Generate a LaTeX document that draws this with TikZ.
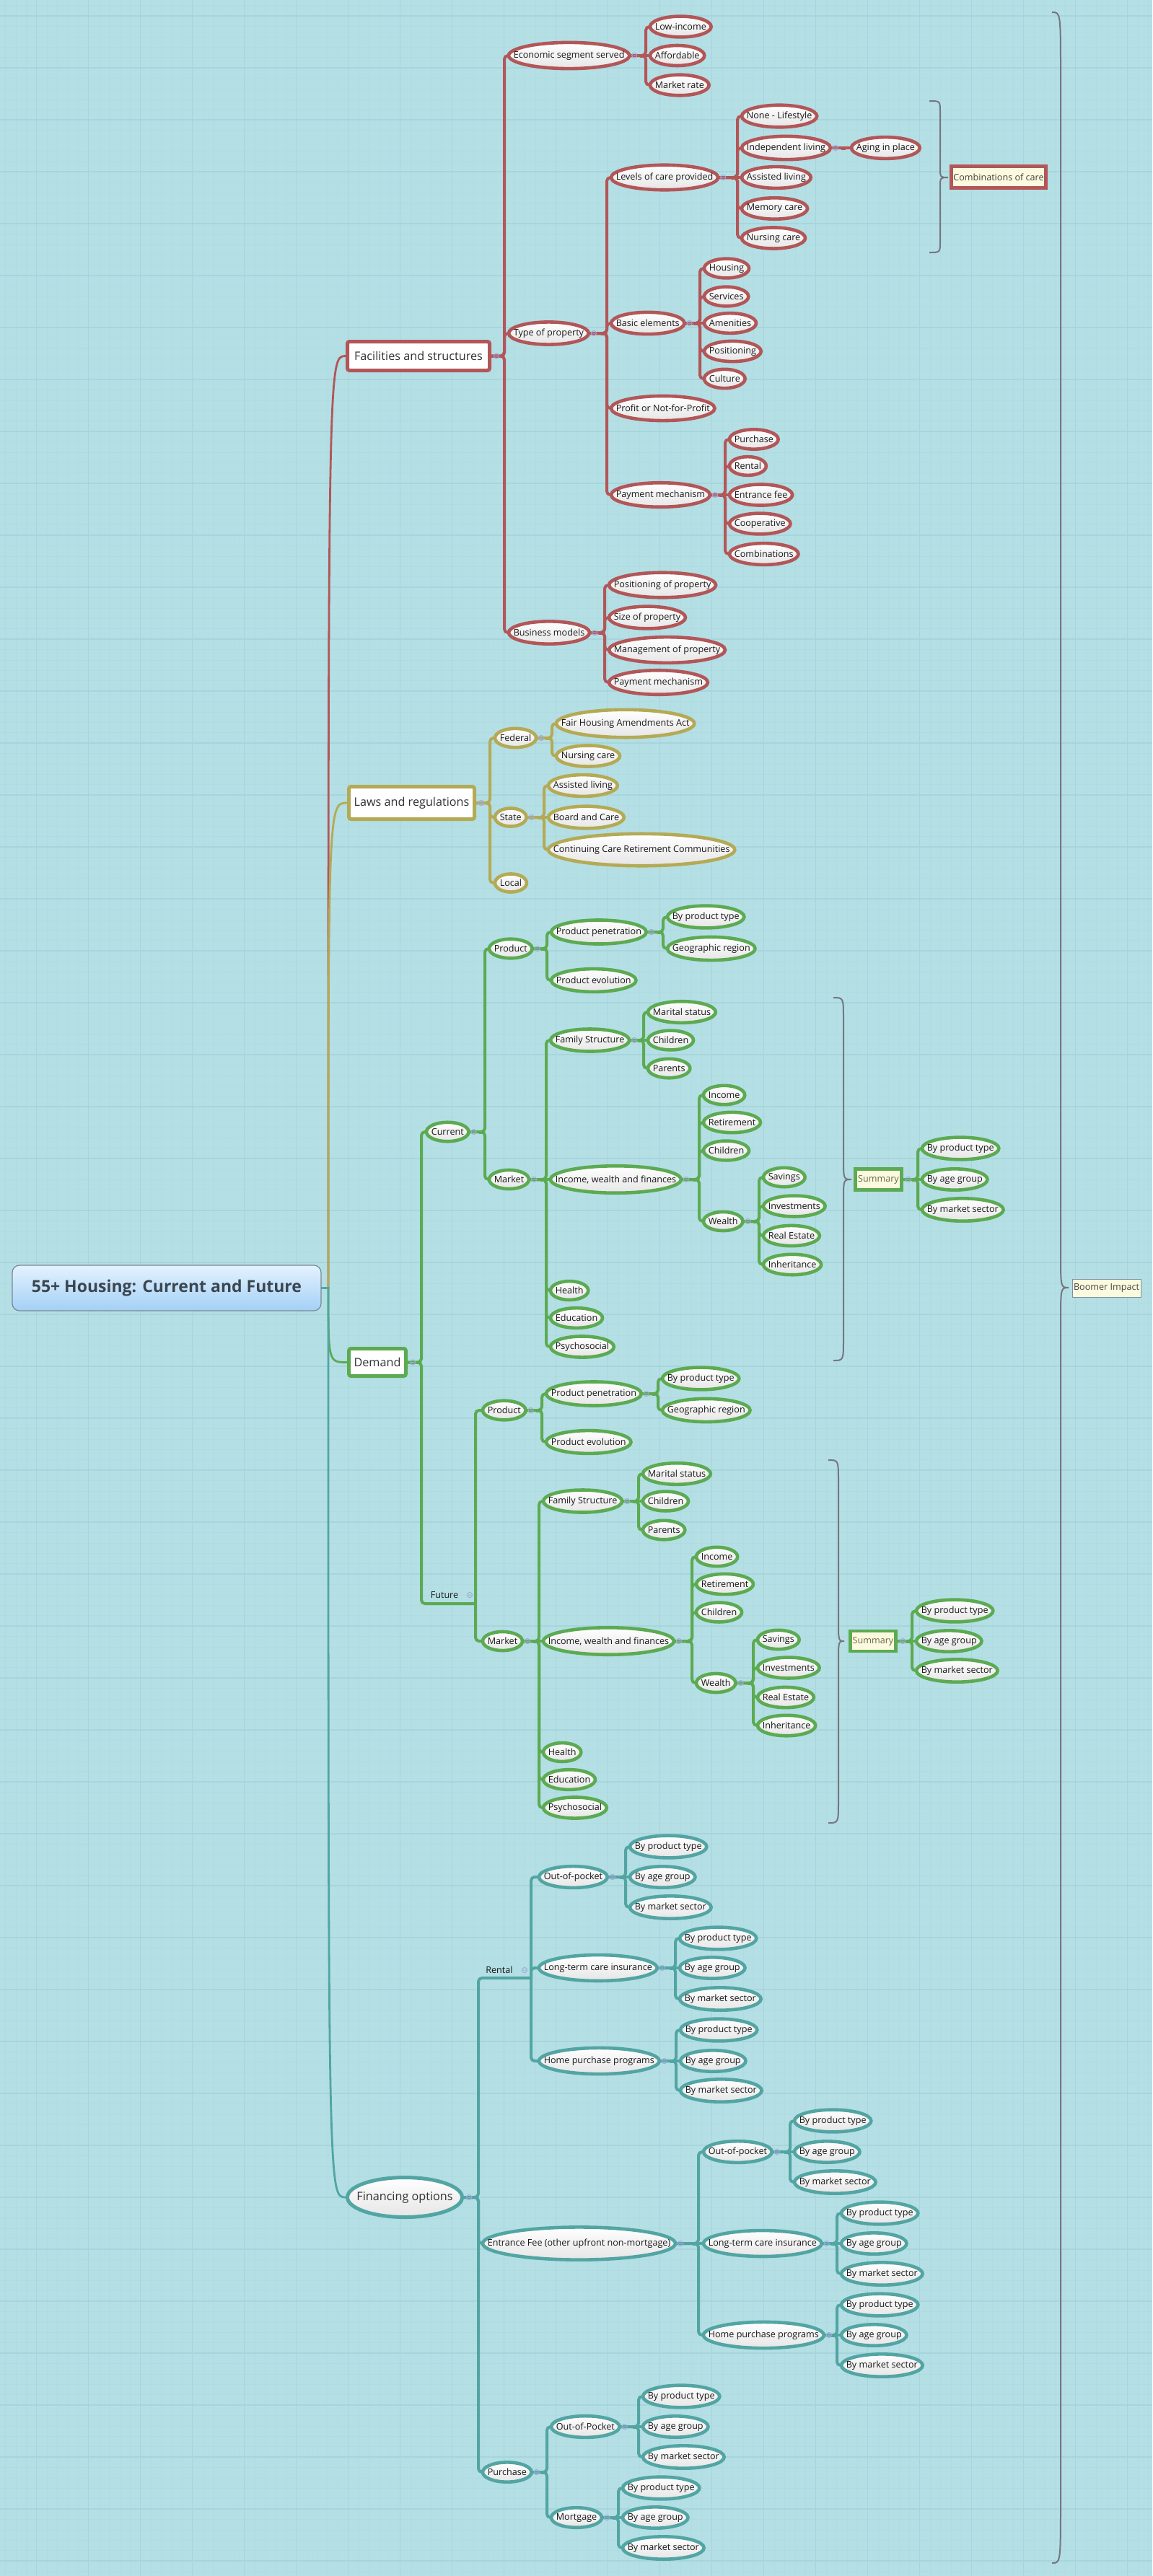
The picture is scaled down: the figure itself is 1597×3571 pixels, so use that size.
\documentclass[tikz,border=0pt]{standalone}
\usepackage{fontspec}
\setmainfont{Open Sans}
\usetikzlibrary{shapes.geometric,calc}
\pgfdeclarelayer{gridl}
\pgfdeclarelayer{lines}
\pgfdeclarelayer{ell}
\pgfsetlayers{gridl,lines,ell,main}
\definecolor{bg}{RGB}{180,223,229}
\definecolor{gmin}{RGB}{175,219,225}
\definecolor{gmaj}{RGB}{167,213,220}
\definecolor{cR}{RGB}{178,86,88}
\definecolor{cG}{RGB}{180,170,85}
\definecolor{cD}{RGB}{92,170,82}
\definecolor{cT}{RGB}{82,165,163}
\definecolor{cream}{RGB}{252,250,222}
\definecolor{bracec}{RGB}{118,118,128}
\definecolor{txt}{RGB}{25,25,25}
\definecolor{ltxt}{RGB}{50,50,50}
\definecolor{stxt}{RGB}{105,105,75}
\definecolor{dtxt}{RGB}{68,68,68}
\definecolor{mkc}{RGB}{160,172,220}
\definecolor{rootT}{RGB}{228,242,254}
\definecolor{rootB}{RGB}{163,208,246}
\definecolor{rootb}{RGB}{120,136,150}
\definecolor{roottxt}{RGB}{58,70,81}
\definecolor{boomb}{RGB}{125,145,160}
\newcommand\mmfont{\fontsize{6.3pt}{7.5pt}\selectfont}
\newcommand\mmlfont{\fontsize{8.1pt}{9.5pt}\selectfont}
\newcommand\mmE[5]{%
  \node[tnode, anchor=west] (#1) at ({#3+2},#4) {#5};
  \begin{pgfonlayer}{ell}
  \path let \p1=(#1.west), \p2=(#1.east), \n1={(\x2-\x1)/2}, \n2={5.3+0.045*(\x2-\x1)} in [eshape=#2] (#1.center) ellipse [x radius={\n1*1pt}, y radius={\n2*1pt}];
  \end{pgfonlayer}}
\newcommand\mmC[4]{\begin{pgfonlayer}{lines}\draw[conn=#1] (#2.east) -- (perpendicular cs: horizontal line through={(#2.east)}, vertical line through={(#3,0)}) |- (#4.west);\end{pgfonlayer}}
\newcommand\mmS[3]{\begin{pgfonlayer}{lines}\draw[conn=#1] (#2.east) -- (#3.west);\end{pgfonlayer}}
\newcommand\mmK[1]{\draw[mk] (#1) ++(7,0) circle[radius=1.8pt] ++(-2,0) -- ++(4,0);}
\newcommand\mmM[3]{\fill[#1] (perpendicular cs: horizontal line through={(#2.east)}, vertical line through={(#3,0)}) ++(-8,-2.5) rectangle ++(6,5); \mmK{#2.east}}
\newcommand\mmR[2]{\begin{pgfonlayer}{lines}\draw[rootc=#1] (root.east) -- (455,1785.5) .. controls (perpendicular cs: horizontal line through={(#2.west)}, vertical line through={(455,0)}) .. (#2.west);\end{pgfonlayer}}
\newcommand\mmB[8]{\draw[bracel] (#1,#2) .. controls (#3,#2) .. (#3,{#2+#7}) -- (#3,{#5-#8}) .. controls (#3,#5) .. (#4,#5) .. controls (#3,#5) .. (#3,{#5+#8}) -- (#3,{#6-#7}) .. controls (#3,#6) .. (#1,#6);}
\begin{document}
\begin{tikzpicture}[x=0.5pt,y=-0.5pt,
  tnode/.style={rectangle, inner xsep=3.2pt, inner ysep=2pt, font=\mmfont, text=txt},
  eshape/.style={draw=#1, line width=2.3pt, top color=white, bottom color=black!10},
  conn/.style={draw=#1, line width=2pt, rounded corners=2.5pt},
  rootc/.style={draw=#1, line width=1.4pt},
  l1box/.style={rectangle, draw=#1, line width=2.5pt, fill=white, rounded corners=1.5pt, inner sep=2pt, font=\mmlfont, text=ltxt},
  l1ell/.style={ellipse, draw=#1, line width=2.5pt, top color=white, bottom color=black!10, inner sep=0pt, font=\mmlfont, text=ltxt},
  sbox/.style={rectangle, draw=#1, line width=2.4pt, fill=cream, inner sep=1pt, font=\mmfont, text=stxt},
  mk/.style={draw=mkc, line width=0.5pt},
  bracel/.style={draw=bracec, line width=1pt}]
\path[use as bounding box] (0,0) rectangle (1597,3571);
\begin{pgfonlayer}{gridl}
\fill[bg] (0,0) rectangle (1597,3571);
\foreach \i in {0,...,110} {\draw[gmin, line width=0.3pt] ({7.5+14.4*\i},0) -- ({7.5+14.4*\i},3571);}
\foreach \i in {0,...,247} {\draw[gmin, line width=0.3pt] (0,{7.6+14.4*\i}) -- (1597,{7.6+14.4*\i});}
\foreach \i in {0,...,21} {\draw[gmaj, line width=0.6pt] ({50.7+72*\i},0) -- ({50.7+72*\i},3571);}
\foreach \i in {0,...,49} {\draw[gmaj, line width=0.6pt] (0,{22+72*\i}) -- (1597,{22+72*\i});}
\end{pgfonlayer}

% root
\node[rectangle, rounded corners=5pt, draw=rootb, line width=0.6pt, top color=rootT, bottom color=rootB, minimum width=214pt, minimum height=31.5pt, font=\fontsize{11.5pt}{13pt}\selectfont\bfseries, text=roottxt] (root) at (231,1785.5) {55+ Housing: Current and Future};

% ---------- Facilities ----------
\node[l1box=cR, minimum width=98.5pt, minimum height=20pt] (fac) at (580,493.5) {Facilities and structures};
\mmE{eco}{cR}{703}{77}{Economic segment served}
\mmE{top}{cR}{703}{462}{Type of property}
\mmE{bm}{cR}{703}{877}{Business models}
\mmE{lowinc}{cR}{899}{37}{Low-income}
\mmE{afford}{cR}{899}{77}{Affordable}
\mmE{mrate}{cR}{899}{118}{Market rate}
\mmE{loc}{cR}{845}{246}{Levels of care provided}
\mmE{be}{cR}{845}{448}{Basic elements}
\mmE{pnp}{cR}{845}{566}{Profit or Not-for-Profit}
\mmE{pm}{cR}{845}{686}{Payment mechanism}
\mmE{none}{cR}{1026}{161}{None - Lifestyle}
\mmE{indep}{cR}{1026}{205}{Independent living}
\mmE{aging}{cR}{1178}{205}{Aging in place}
\mmE{asst}{cR}{1026}{246}{Assisted living}
\mmE{memory}{cR}{1026}{289}{Memory care}
\mmE{nursing}{cR}{1026}{330}{Nursing care}
\mmE{housing}{cR}{974}{372}{Housing}
\mmE{services}{cR}{974}{411}{Services}
\mmE{amen}{cR}{974}{448}{Amenities}
\mmE{posit}{cR}{974}{487}{Positioning}
\mmE{culture}{cR}{974}{525}{Culture}
\mmE{purch}{cR}{1009}{609}{Purchase}
\mmE{rent}{cR}{1009}{646}{Rental}
\mmE{entfee}{cR}{1009}{686}{Entrance fee}
\mmE{coop}{cR}{1009}{726}{Cooperative}
\mmE{combi}{cR}{1009}{768}{Combinations}
\mmE{posprop}{cR}{842}{811}{Positioning of property}
\mmE{sizeprop}{cR}{842}{856}{Size of property}
\mmE{mgmt}{cR}{842}{901}{Management of property}
\mmE{paybm}{cR}{842}{946}{Payment mechanism}
\node[sbox=cR, text=dtxt, minimum width=65.5pt, minimum height=15pt] (combo) at (1384,245.5) {Combinations of care};

% ---------- Laws ----------
\node[l1box=cG, minimum width=87pt, minimum height=22.5pt] (law) at (570.5,1113) {Laws and regulations};
\mmE{fed}{cG}{684}{1023}{Federal}
\mmE{state}{cG}{684}{1133}{State}
\mmE{local}{cG}{684}{1224}{Local}
\mmE{fha}{cG}{769}{1003}{Fair Housing Amendments Act}
\mmE{lnc}{cG}{769}{1048}{Nursing care}
\mmE{lal}{cG}{758}{1089}{Assisted living}
\mmE{lbc}{cG}{758}{1133}{Board and Care}
\mmE{ccrc}{cG}{758}{1178}{Continuing Care Retirement Communities}

% ---------- Demand ----------
\node[l1box=cD, minimum width=39.5pt, minimum height=19pt] (dem) at (523,1888.5) {Demand};
\mmE{cur}{cD}{589}{1569}{Current}
\node[font=\mmfont, text=txt, inner sep=0pt] (future) at (616,2211) {Future};
\coordinate (futE) at (659,2223);
\mmE{cprod}{cD}{676}{1315}{Product}
\mmE{cmkt}{cD}{676}{1635}{Market}
\mmE{cpp}{cD}{762}{1292}{Product penetration}
\mmE{cpe}{cD}{762}{1359}{Product evolution}
\mmE{cbpt}{cD}{923}{1271}{By product type}
\mmE{cgeo}{cD}{923}{1315}{Geographic region}
\mmE{cfs}{cD}{761}{1442}{Family Structure}
\mmE{ciwf}{cD}{761}{1635}{Income, wealth and finances}
\mmE{chealth}{cD}{761}{1789}{Health}
\mmE{cedu}{cD}{761}{1827}{Education}
\mmE{cpsy}{cD}{761}{1867}{Psychosocial}
\mmE{cms}{cD}{896}{1403}{Marital status}
\mmE{cchild}{cD}{896}{1442}{Children}
\mmE{cpar}{cD}{896}{1481}{Parents}
\mmE{cinc}{cD}{973}{1518}{Income}
\mmE{cret}{cD}{973}{1556}{Retirement}
\mmE{cchildb}{cD}{973}{1595}{Children}
\mmE{cwealth}{cD}{973}{1693}{Wealth}
\mmE{csav}{cD}{1056}{1632}{Savings}
\mmE{cinv}{cD}{1056}{1672}{Investments}
\mmE{cre}{cD}{1056}{1713}{Real Estate}
\mmE{cinh}{cD}{1056}{1753}{Inheritance}
\node[sbox=cD, minimum width=32pt, minimum height=14.5pt] (csum) at (1217.5,1635) {Summary};
\mmE{csbpt}{cD}{1276}{1592}{By product type}
\mmE{csbag}{cD}{1276}{1635}{By age group}
\mmE{csbms}{cD}{1276}{1677}{By market sector}
\mmE{fprod}{cD}{667}{1955}{Product}
\mmE{fmkt}{cD}{667}{2275}{Market}
\mmE{fpp}{cD}{755}{1932}{Product penetration}
\mmE{fpe}{cD}{755}{1999}{Product evolution}
\mmE{fbpt}{cD}{916}{1911}{By product type}
\mmE{fgeo}{cD}{916}{1955}{Geographic region}
\mmE{ffs}{cD}{751}{2081}{Family Structure}
\mmE{fiwf}{cD}{751}{2275}{Income, wealth and finances}
\mmE{fhealth}{cD}{751}{2429}{Health}
\mmE{fedu}{cD}{751}{2467}{Education}
\mmE{fpsy}{cD}{751}{2506}{Psychosocial}
\mmE{fms}{cD}{889}{2043}{Marital status}
\mmE{fchild}{cD}{889}{2081}{Children}
\mmE{fpar}{cD}{889}{2121}{Parents}
\mmE{finc}{cD}{963}{2158}{Income}
\mmE{fret}{cD}{963}{2196}{Retirement}
\mmE{fchildb}{cD}{963}{2235}{Children}
\mmE{fwealth}{cD}{963}{2333}{Wealth}
\mmE{fsav}{cD}{1048}{2273}{Savings}
\mmE{finv}{cD}{1048}{2312}{Investments}
\mmE{fre}{cD}{1048}{2353}{Real Estate}
\mmE{finh}{cD}{1048}{2392}{Inheritance}
\node[sbox=cD, minimum width=31.5pt, minimum height=14pt] (fsum) at (1210,2275) {Summary};
\mmE{fsbpt}{cD}{1268}{2233}{By product type}
\mmE{fsbag}{cD}{1268}{2275}{By age group}
\mmE{fsbms}{cD}{1268}{2316}{By market sector}

% ---------- Financing ----------
\node[l1ell=cT, minimum width=79.5pt, minimum height=27.5pt] (fin) at (561,3046) {\makebox[0pt]{Financing options}};
\node[font=\mmfont, text=txt, inner sep=0pt] (rental) at (692,2731) {Rental};
\coordinate (rentE) at (736,2742);
\mmE{ef}{cT}{667}{3110}{Entrance Fee (other upfront non-mortgage)}
\mmE{pur}{cT}{667}{3427}{Purchase}
\mmE{roop}{cT}{745}{2602}{Out-of-pocket}
\mmE{rltc}{cT}{745}{2728}{Long-term care insurance}
\mmE{rhpp}{cT}{745}{2857}{Home purchase programs}
\mmE{roopa}{cT}{871}{2560}{By product type}
\mmE{roopb}{cT}{871}{2602}{By age group}
\mmE{roopc}{cT}{871}{2644}{By market sector}
\mmE{rltca}{cT}{940}{2687}{By product type}
\mmE{rltcb}{cT}{940}{2728}{By age group}
\mmE{rltcc}{cT}{940}{2771}{By market sector}
\mmE{rhppa}{cT}{941}{2814}{By product type}
\mmE{rhppb}{cT}{941}{2857}{By age group}
\mmE{rhppc}{cT}{941}{2898}{By market sector}
\mmE{eoop}{cT}{973}{2983}{Out-of-pocket}
\mmE{eltc}{cT}{973}{3110}{Long-term care insurance}
\mmE{ehpp}{cT}{973}{3237}{Home purchase programs}
\mmE{eoopa}{cT}{1099}{2940}{By product type}
\mmE{eoopb}{cT}{1099}{2983}{By age group}
\mmE{eoopc}{cT}{1099}{3025}{By market sector}
\mmE{eltca}{cT}{1164}{3068}{By product type}
\mmE{eltcb}{cT}{1164}{3110}{By age group}
\mmE{eltcc}{cT}{1164}{3152}{By market sector}
\mmE{ehppa}{cT}{1164}{3195}{By product type}
\mmE{ehppb}{cT}{1164}{3237}{By age group}
\mmE{ehppc}{cT}{1164}{3279}{By market sector}
\mmE{poop}{cT}{762}{3364}{Out-of-Pocket}
\mmE{mort}{cT}{762}{3490}{Mortgage}
\mmE{poopa}{cT}{889}{3322}{By product type}
\mmE{poopb}{cT}{889}{3364}{By age group}
\mmE{poopc}{cT}{889}{3406}{By market sector}
\mmE{morta}{cT}{861}{3449}{By product type}
\mmE{mortb}{cT}{861}{3490}{By age group}
\mmE{mortc}{cT}{861}{3532}{By market sector}

\node[rectangle, draw=boomb, line width=0.5pt, fill=cream, minimum width=47.5pt, minimum height=12.5pt, inner sep=1pt, font=\mmfont, text=dtxt] (boomer) at (1533.5,1785.5) {Boomer Impact};

% ---------- connectors ----------
\mmR{cR}{fac}\mmR{cG}{law}\mmR{cD}{dem}\mmR{cT}{fin}
\mmC{cR}{fac}{699}{eco}\mmC{cR}{fac}{699}{top}\mmC{cR}{fac}{699}{bm}
\mmC{cR}{eco}{895}{lowinc}\mmS{cR}{eco}{afford}\mmC{cR}{eco}{895}{mrate}
\mmC{cR}{top}{841}{loc}\mmC{cR}{top}{841}{be}\mmC{cR}{top}{841}{pnp}\mmC{cR}{top}{841}{pm}
\mmC{cR}{loc}{1022}{none}\mmC{cR}{loc}{1022}{indep}\mmS{cR}{loc}{asst}\mmC{cR}{loc}{1022}{memory}\mmC{cR}{loc}{1022}{nursing}
\mmS{cR}{indep}{aging}
\mmC{cR}{be}{970}{housing}\mmC{cR}{be}{970}{services}\mmS{cR}{be}{amen}\mmC{cR}{be}{970}{posit}\mmC{cR}{be}{970}{culture}
\mmC{cR}{pm}{1005}{purch}\mmC{cR}{pm}{1005}{rent}\mmS{cR}{pm}{entfee}\mmC{cR}{pm}{1005}{coop}\mmC{cR}{pm}{1005}{combi}
\mmC{cR}{bm}{838}{posprop}\mmC{cR}{bm}{838}{sizeprop}\mmC{cR}{bm}{838}{mgmt}\mmC{cR}{bm}{838}{paybm}

\mmC{cG}{law}{679}{fed}\mmC{cG}{law}{679}{state}\mmC{cG}{law}{679}{local}
\mmC{cG}{fed}{765}{fha}\mmC{cG}{fed}{765}{lnc}
\mmC{cG}{state}{754}{lal}\mmS{cG}{state}{lbc}\mmC{cG}{state}{754}{ccrc}

\mmC{cD}{dem}{584}{cur}
\begin{pgfonlayer}{lines}
\draw[conn=cD] (dem.east) -- (584,1888.5) |- (futE);
\draw[conn=cD] (futE) |- (fprod.west);
\draw[conn=cD] (futE) |- (fmkt.west);
\end{pgfonlayer}
\mmC{cD}{cur}{672}{cprod}\mmC{cD}{cur}{672}{cmkt}
\mmC{cD}{cprod}{758}{cpp}\mmC{cD}{cprod}{758}{cpe}
\mmC{cD}{cpp}{919}{cbpt}\mmC{cD}{cpp}{919}{cgeo}
\mmC{cD}{cmkt}{757}{cfs}\mmS{cD}{cmkt}{ciwf}\mmC{cD}{cmkt}{757}{chealth}\mmC{cD}{cmkt}{757}{cedu}\mmC{cD}{cmkt}{757}{cpsy}
\mmC{cD}{cfs}{892}{cms}\mmS{cD}{cfs}{cchild}\mmC{cD}{cfs}{892}{cpar}
\mmC{cD}{ciwf}{969}{cinc}\mmC{cD}{ciwf}{969}{cret}\mmC{cD}{ciwf}{969}{cchildb}\mmC{cD}{ciwf}{969}{cwealth}
\mmC{cD}{cwealth}{1052}{csav}\mmC{cD}{cwealth}{1052}{cinv}\mmC{cD}{cwealth}{1052}{cre}\mmC{cD}{cwealth}{1052}{cinh}
\mmC{cD}{csum}{1272}{csbpt}\mmS{cD}{csum}{csbag}\mmC{cD}{csum}{1272}{csbms}
\mmC{cD}{fprod}{751}{fpp}\mmC{cD}{fprod}{751}{fpe}
\mmC{cD}{fpp}{912}{fbpt}\mmC{cD}{fpp}{912}{fgeo}
\mmC{cD}{fmkt}{747}{ffs}\mmS{cD}{fmkt}{fiwf}\mmC{cD}{fmkt}{747}{fhealth}\mmC{cD}{fmkt}{747}{fedu}\mmC{cD}{fmkt}{747}{fpsy}
\mmC{cD}{ffs}{885}{fms}\mmS{cD}{ffs}{fchild}\mmC{cD}{ffs}{885}{fpar}
\mmC{cD}{fiwf}{959}{finc}\mmC{cD}{fiwf}{959}{fret}\mmC{cD}{fiwf}{959}{fchildb}\mmC{cD}{fiwf}{959}{fwealth}
\mmC{cD}{fwealth}{1044}{fsav}\mmC{cD}{fwealth}{1044}{finv}\mmC{cD}{fwealth}{1044}{fre}\mmC{cD}{fwealth}{1044}{finh}
\mmC{cD}{fsum}{1264}{fsbpt}\mmS{cD}{fsum}{fsbag}\mmC{cD}{fsum}{1264}{fsbms}

\begin{pgfonlayer}{lines}
\draw[conn=cT] (fin.east) -- (663,3046) |- (rentE);
\draw[conn=cT] (rentE) |- (roop.west);
\draw[conn=cT] (rentE) |- (rltc.west);
\draw[conn=cT] (rentE) |- (rhpp.west);
\end{pgfonlayer}
\mmC{cT}{fin}{663}{ef}\mmC{cT}{fin}{663}{pur}
\mmC{cT}{roop}{867}{roopa}\mmS{cT}{roop}{roopb}\mmC{cT}{roop}{867}{roopc}
\mmC{cT}{rltc}{936}{rltca}\mmS{cT}{rltc}{rltcb}\mmC{cT}{rltc}{936}{rltcc}
\mmC{cT}{rhpp}{937}{rhppa}\mmS{cT}{rhpp}{rhppb}\mmC{cT}{rhpp}{937}{rhppc}
\mmC{cT}{ef}{968}{eoop}\mmS{cT}{ef}{eltc}\mmC{cT}{ef}{968}{ehpp}
\mmC{cT}{eoop}{1095}{eoopa}\mmS{cT}{eoop}{eoopb}\mmC{cT}{eoop}{1095}{eoopc}
\mmC{cT}{eltc}{1160}{eltca}\mmS{cT}{eltc}{eltcb}\mmC{cT}{eltc}{1160}{eltcc}
\mmC{cT}{ehpp}{1160}{ehppa}\mmS{cT}{ehpp}{ehppb}\mmC{cT}{ehpp}{1160}{ehppc}
\mmC{cT}{pur}{758}{poop}\mmC{cT}{pur}{758}{mort}
\mmC{cT}{poop}{885}{poopa}\mmS{cT}{poop}{poopb}\mmC{cT}{poop}{885}{poopc}
\mmC{cT}{mort}{857}{morta}\mmS{cT}{mort}{mortb}\mmC{cT}{mort}{857}{mortc}

% ---------- markers ----------
\mmK{fac.east}\mmK{law.east}\mmK{dem.east}\mmK{fin.east}
\mmM{cR}{eco}{895}\mmM{cR}{top}{841}\mmM{cR}{loc}{1022}\mmM{cR}{indep}{1174}\mmM{cR}{be}{970}\mmM{cR}{pm}{1005}\mmM{cR}{bm}{838}
\mmM{cG}{fed}{765}\mmM{cG}{state}{754}
\mmM{cD}{cur}{672}\mmM{cD}{cprod}{758}\mmM{cD}{cpp}{919}\mmM{cD}{cmkt}{757}\mmM{cD}{cfs}{892}\mmM{cD}{ciwf}{969}\mmM{cD}{cwealth}{1052}\mmM{cD}{csum}{1272}
\mmK{644,2211}
\mmM{cD}{fprod}{751}\mmM{cD}{fpp}{912}\mmM{cD}{fmkt}{747}\mmM{cD}{ffs}{885}\mmM{cD}{fiwf}{959}\mmM{cD}{fwealth}{1044}\mmM{cD}{fsum}{1264}
\mmK{720,2731}
\mmM{cT}{ef}{968}\mmM{cT}{roop}{867}\mmM{cT}{rltc}{936}\mmM{cT}{rhpp}{937}\mmM{cT}{eoop}{1095}\mmM{cT}{eltc}{1160}\mmM{cT}{ehpp}{1160}\mmM{cT}{pur}{758}\mmM{cT}{poop}{885}\mmM{cT}{mort}{857}

% ---------- braces ----------
\mmB{1288}{140}{1303}{1314}{246}{350}{16}{14}
\mmB{1155}{1383}{1169}{1180}{1635}{1886}{30}{30}
\mmB{1148}{2024}{1162}{1170}{2275}{2527}{30}{30}
\mmB{1458}{17}{1470}{1481}{1785}{3553}{90}{50}
\end{tikzpicture}
\end{document}
